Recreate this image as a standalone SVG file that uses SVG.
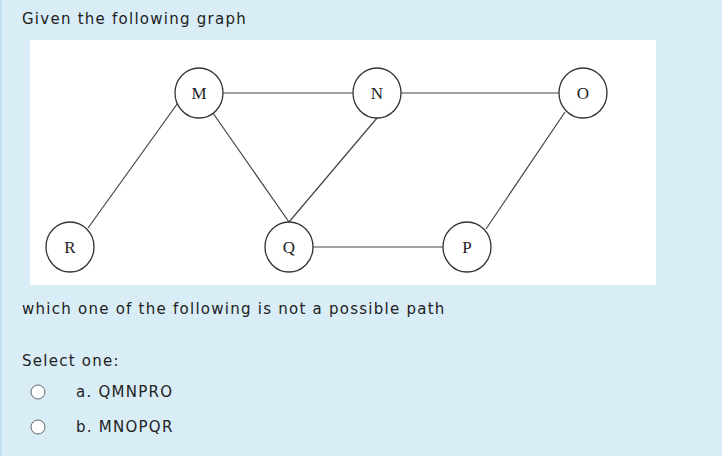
<svg xmlns="http://www.w3.org/2000/svg" width="722" height="456" viewBox="0 0 722 456">
<style>
.t{font-family:"DejaVu Sans",sans-serif;font-size:15px;letter-spacing:1.25px;fill:#222}
.n ellipse{fill:#fff;stroke:#333;stroke-width:1.3}
.n text{font-family:"Liberation Serif",serif;font-size:17px;fill:#222;text-anchor:middle}
.e line{stroke:#444;stroke-width:1.2}
.r{fill:#fff;stroke:#666;stroke-width:1}
</style>
<rect width="722" height="456" fill="#d9edf7"/>
<rect x="0" y="0" width="2" height="456" fill="#c4dfee"/>
<text class="t" x="22" y="24">Given the following graph</text>
<rect x="30" y="40" width="626" height="245" fill="#fff"/>
<g class="e" id="edges">
<line x1="199" y1="93" x2="377" y2="93"/>
<line x1="377" y1="93" x2="583" y2="93"/>
<line x1="180" y1="100" x2="88" y2="228"/>
<line x1="199" y1="93" x2="289" y2="222"/>
<line x1="377" y1="118" x2="289" y2="222"/>
<line x1="289" y1="247" x2="467" y2="247"/>
<line x1="565" y1="112" x2="486" y2="229"/>
</g>
<g class="n" id="M"><ellipse cx="199" cy="93" rx="24" ry="25"/><text x="199" y="99">M</text></g>
<g class="n" id="N"><ellipse cx="377" cy="93" rx="24" ry="25"/><text x="377" y="99">N</text></g>
<g class="n" id="O"><ellipse cx="583" cy="93" rx="24" ry="25"/><text x="583" y="99">O</text></g>
<g class="n" id="R"><ellipse cx="70" cy="247" rx="24" ry="25"/><text x="70" y="253">R</text></g>
<g class="n" id="Q"><ellipse cx="289" cy="247" rx="24" ry="25"/><text x="289" y="253">Q</text></g>
<g class="n" id="P"><ellipse cx="467" cy="247" rx="24" ry="25"/><text x="467" y="253">P</text></g>
<text class="t" x="22" y="314">which one of the following is not a possible path</text>
<text class="t" x="22" y="366">Select one:</text>
<circle class="r" cx="38" cy="392" r="7"/>
<text class="t" x="76" y="397">a. QMNPRO</text>
<circle class="r" cx="38" cy="427" r="7"/>
<text class="t" x="76" y="432">b. MNOPQR</text>
</svg>
